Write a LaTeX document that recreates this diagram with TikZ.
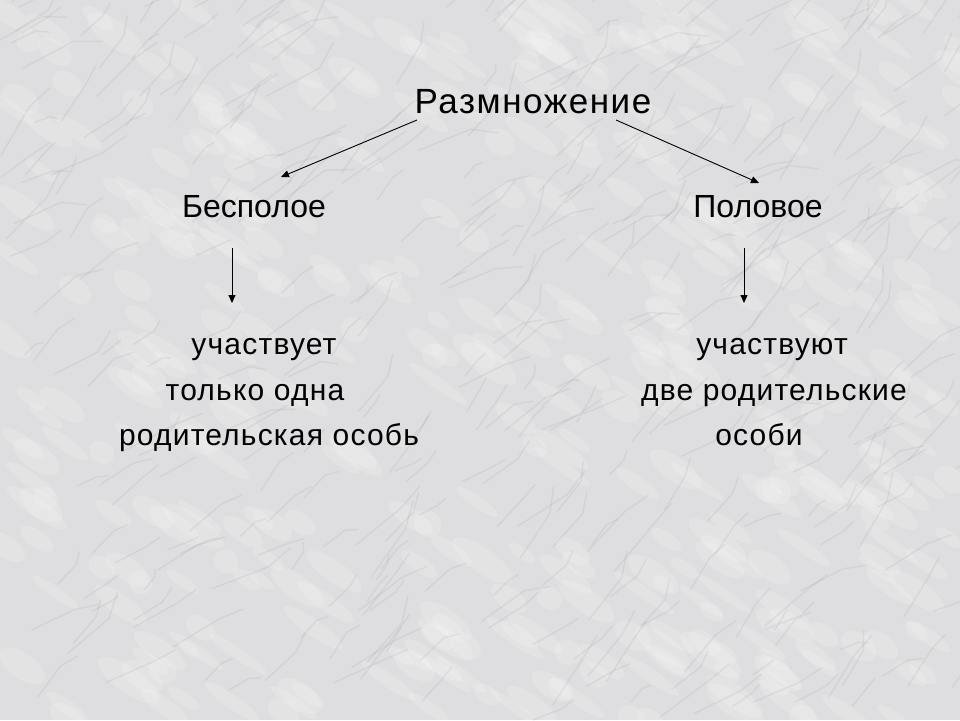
\documentclass[tikz,border=0pt]{standalone}
\usepackage{fontspec}
\setmainfont{Liberation Sans}
\newfontfamily\headfont[LetterSpace=4.5]{Liberation Sans}
\newfontfamily\bodyfont[LetterSpace=4]{Liberation Sans}
\usepackage{tikz}
\usetikzlibrary{arrows.meta}
\definecolor{marble}{rgb}{0.87,0.87,0.88}
\definecolor{vein}{rgb}{0.52,0.53,0.55}

\begin{document}
\begin{tikzpicture}[x=1pt, y=-1pt,
	head text/.style={font=\headfont\fontsize{35}{40}\selectfont, anchor=base, inner sep=0pt},
	kind text/.style={font=\fontsize{32}{38}\selectfont, anchor=base, inner sep=0pt},
	body text/.style={font=\bodyfont\fontsize{30}{36}\selectfont, anchor=base, inner sep=0pt},
	arr/.style={-{Triangle[length=8pt,width=7pt]}, line width=0.9pt}]
		\useasboundingbox (0,0) rectangle (960,720);
		\begin{scope}
		\clip (0,0) rectangle (960,720);
		\fill[marble] (0,0) rectangle (960,720);
		\pgfmathsetseed{17}
		\foreach \i in {1,...,420}{
		  \pgfmathsetmacro{\bx}{960*rnd}
		  \pgfmathsetmacro{\by}{720*rnd}
		  \fill[white, opacity=0.16, rotate around={-35:(\bx,\by)}]
		    (\bx,\by) ellipse ({12+25*rnd} and {5+8*rnd});
		}
		\foreach \i in {1,...,380}{
		  \pgfmathsetmacro{\vx}{960*rnd}
		  \pgfmathsetmacro{\vy}{720*rnd}
		  \pgfmathsetmacro{\va}{-20-40*rnd}
		  \pgfmathsetmacro{\vl}{15+45*rnd}
		  \draw[vein, opacity=0.12, line width=1.5pt, line cap=round]
		    (\vx,\vy) -- ++(\va:\vl) -- ++(\va-70*rnd+35:0.5*\vl);
		}
		\end{scope}
		\node[head text] (repr) at (533,113) {Размножение};
		\node[kind text] (asex) at (254,217) {Бесполое};
		\node[kind text] (sex) at (758,217) {Половое};
		\node[body text] (asex one) at (264,354) {участвует};
		\node[body text] (asex two) at (255,400) {только одна};
		\node[body text] (asex three) at (269,445) {родительская особь};
		\node[body text] (sex one) at (772,354) {участвуют};
		\node[body text] (sex two) at (774,400) {две родительские};
		\node[body text] (sex three) at (759,445) {особи};
		\coordinate (repr l) at (417,120);
		\coordinate (repr r) at (616,120);
		\coordinate (asex top) at (281,177);
		\coordinate (sex top) at (759,183);
		\coordinate (asex down) at (232,248);
		\coordinate (sex down) at (744,248);
		\coordinate (asex end) at (232,303);
		\coordinate (sex end) at (744,303);
		\draw[arr] (repr l) -- (asex top);
		\draw[arr] (repr r) -- (sex top);
		\draw[arr] (asex down) -- (asex end);
		\draw[arr] (sex down) -- (sex end);
\end{tikzpicture}
\end{document}
